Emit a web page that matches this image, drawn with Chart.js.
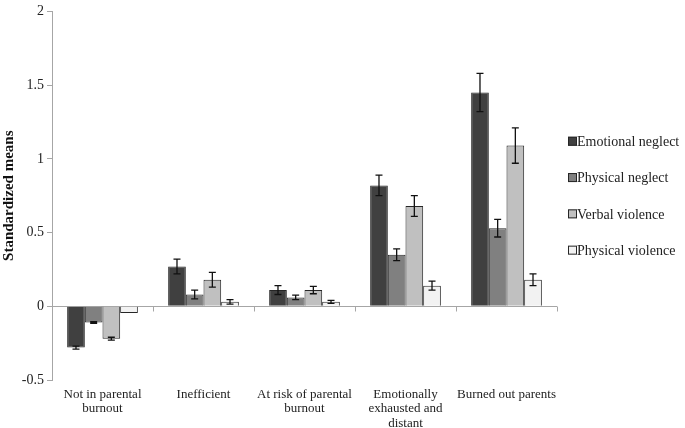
<!DOCTYPE html>
<html><head><meta charset="utf-8">
<script src="https://cdn.jsdelivr.net/npm/chart.js@4"></script>
<style>html,body{margin:0;padding:0;background:#fff;overflow:hidden}#wrap{width:685px;height:428px}</style>
</head><body><div id="wrap"><canvas id="c"></canvas></div>
<script>
const categories = [["Not in parental","burnout"],"Inefficient",["At risk of parental","burnout"],["Emotionally","exhausted and","distant"],"Burned out parents"];
const seriesNames = ["Emotional neglect","Physical neglect","Verbal violence","Physical violence"];
const emotionalNeglect = [-0.28, 0.27, 0.11, 0.82, 1.45];
const physicalNeglect = [-0.11, 0.08, 0.06, 0.35, 0.53];
const verbalViolence = [-0.22, 0.18, 0.11, 0.68, 1.09];
const physicalViolence = [-0.045, 0.03, 0.03, 0.14, 0.18];
const errEmotionalNeglect = [0.01, 0.05, 0.03, 0.07, 0.13];
const errPhysicalNeglect = [0.005, 0.03, 0.015, 0.04, 0.06];
const errVerbalViolence = [0.01, 0.05, 0.025, 0.07, 0.12];
const errPhysicalViolence = [0.0, 0.015, 0.01, 0.03, 0.04];
const yTicks = [-0.5, 0, 0.5, 1, 1.5, 2];
const colors = ["#404040","#808080","#c0c0c0","#f2f2f2"];

const values = [emotionalNeglect, physicalNeglect, verbalViolence, physicalViolence];
const errors = [errEmotionalNeglect, errPhysicalNeglect, errVerbalViolence, errPhysicalViolence];
const FONT = 'Liberation Serif';

const extras = {
  id: 'extras',
  beforeDatasetsDraw(chart) {
    const ctx = chart.ctx, ys = chart.scales.y, a = chart.chartArea;
    const y0 = Math.round(ys.getPixelForValue(0)) + 0.5;
    ctx.save();
    ctx.strokeStyle = '#a6a6a6'; ctx.lineWidth = 1;
    ctx.beginPath(); ctx.moveTo(a.left, y0); ctx.lineTo(a.right, y0); ctx.stroke();
    const n = categories.length, w = (a.right - a.left) / n;
    for (let i = 1; i <= n; i++) {
      const x = Math.round(a.left + i * w) + 0.5;
      ctx.beginPath(); ctx.moveTo(x, y0); ctx.lineTo(x, y0 + 5); ctx.stroke();
    }
    ctx.restore();
  },
  afterDatasetsDraw(chart) {
    const ctx = chart.ctx, ys = chart.scales.y;
    ctx.save();
    ctx.strokeStyle = '#111'; ctx.lineWidth = 1.3;
    chart.data.datasets.forEach((ds, di) => {
      const meta = chart.getDatasetMeta(di);
      meta.data.forEach((el, i) => {
        const v = values[di][i], e = errors[di][i];
        if (!e) return;
        const x = el.x, yt = ys.getPixelForValue(v + e), yb = ys.getPixelForValue(v - e);
        ctx.beginPath();
        ctx.moveTo(x, yt); ctx.lineTo(x, yb);
        ctx.moveTo(x - 3.5, yt); ctx.lineTo(x + 3.5, yt);
        ctx.moveTo(x - 3.5, yb); ctx.lineTo(x + 3.5, yb);
        ctx.stroke();
      });
    });
    ctx.restore();
  },
  afterDraw(chart) {
    const ctx = chart.ctx, a = chart.chartArea;
    const midY = (a.top + a.bottom) / 2;
    const step = 36.3;
    ctx.save();
    ctx.font = '14px "' + FONT + '"';
    ctx.textBaseline = 'middle';
    ctx.fillStyle = '#222';
    seriesNames.forEach((name, i) => {
      const cy = midY + (i - 1.5) * step;
      const bx = a.right + 11;
      ctx.fillStyle = colors[i];
      ctx.fillRect(bx, cy - 4.5, 9, 9);
      ctx.strokeStyle = '#262626'; ctx.lineWidth = 1;
      ctx.strokeRect(bx + 0.5, cy - 4, 8, 8);
      ctx.fillStyle = '#222';
      ctx.fillText(name, bx + 9, cy + 1);
    });
    ctx.restore();
  }
};

new Chart(document.getElementById('c'), {
  type: 'bar',
  data: {
    labels: categories,
    datasets: seriesNames.map((name, i) => ({
      label: name,
      data: values[i],
      backgroundColor: colors[i],
      borderColor: '#262626',
      borderWidth: 1,
      categoryPercentage: 0.7,
      barPercentage: 1.0
    }))
  },
  options: {
    responsive: true, maintainAspectRatio: false, animation: false,
    layout: { padding: { top: 8, left: 0, right: 128, bottom: 0 } },
    plugins: { legend: { display: false }, tooltip: { enabled: false } },
    scales: {
      x: {
        afterFit(scale) { scale.height = 48; },
        grid: { display: false, drawTicks: false },
        border: { display: false },
        ticks: { font: { family: FONT, size: 13, lineHeight: 1.08 }, color: '#222', maxRotation: 0, autoSkip: false, padding: 8 }
      },
      y: {
        min: -0.5, max: 2,
        afterFit(scale) { scale.width = 52; },
        afterBuildTicks(axis) { axis.ticks = yTicks.map(v => ({ value: v })); },
        grid: { drawOnChartArea: false, color: '#a6a6a6', tickLength: 5 },
        border: { color: '#a6a6a6' },
        ticks: { font: { family: FONT, size: 14 }, color: '#222', padding: 3, callback: v => String(v) },
        title: { display: true, text: 'Standardized means', font: { family: FONT, size: 15, weight: 'bold' }, color: '#111', padding: 0 }
      }
    }
  },
  plugins: [extras]
});
</script></body></html>
